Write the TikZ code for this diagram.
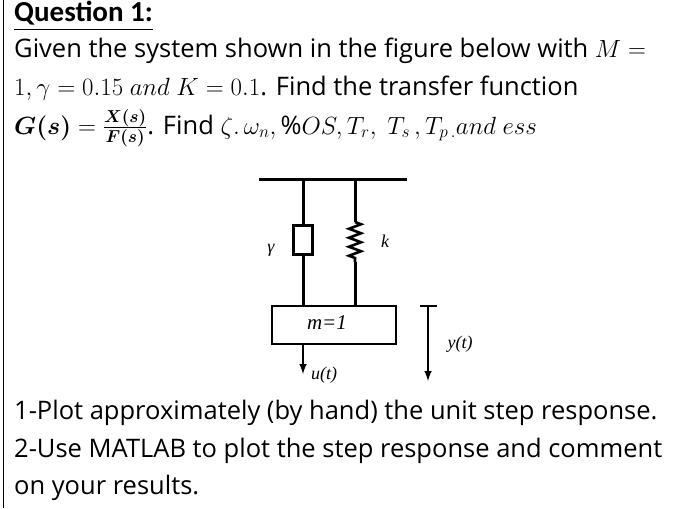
\documentclass[tikz,border=0pt]{standalone}
\usepackage{amsmath,bm}
\usepackage{fontspec}
\setmainfont{Open Sans}
\newfontfamily\titlefont{Carlito}
\newfontfamily\figfont{Liberation Serif}
\usetikzlibrary{decorations.pathmorphing}
\begin{document}
\begin{tikzpicture}[x=1pt,y=-1pt,
  txt/.style={anchor=west,inner sep=0pt,font=\fontsize{25.5}{30}\selectfont},
  fig/.style={font=\fontsize{18}{19}\selectfont\figfont\itshape,inner sep=1pt},
  ln/.style={line width=3pt}]
\useasboundingbox (0,0) rectangle (700,508);
\fill[white] (0,0) rectangle (700,508);
\draw[line width=1pt] (3,0) -- (3,508);
\node[txt,font=\fontsize{29}{30}\titlefont\bfseries] (t0) at (14,16) {\underline{Question 1:}};
\node[txt] (t1) at (14,51) {Given the system shown in the figure below with $M=$};
\node[txt] (t2) at (14,88) {$1,\gamma=0.15\ and\ K=0.1$. Find the transfer function};
\node[txt] (t3) at (14,128) {$\bm{G(s)}=\frac{\bm{X(s)}}{\bm{F(s)}}$. Find $\zeta.\,\omega_n,\%OS,T_r,\ T_s\,,T_{p\,.}and\ ess$};
\node[txt] (t4) at (14,413) {1-Plot approximately (by hand) the unit step response.};
\node[txt] (t5) at (14,451) {2-Use MATLAB to plot the step response and comment};
\node[txt] (t6) at (14,488) {on your results.};
% figure
\coordinate (wl) at (259,179); \coordinate (wr) at (407,179);
\draw[ln] (wl) -- (wr);
\node[draw,line width=2.6pt,minimum width=124pt,minimum height=38pt,inner sep=0pt] (m) at (334,325) {};
\node[fig,font=\fontsize{21}{22}\selectfont\figfont\itshape] (ml) at (327,323) {m=1};
\node[draw,line width=2.6pt,minimum width=19pt,minimum height=29pt,inner sep=0pt] (d) at (303,240) {};
\draw[ln] (303,179) -- (303,226);
\draw[ln] (d.south) -- (303,306);
\draw[ln] (355,179) -- (355,222);
\draw[line width=2.6pt,decorate,decoration={zigzag,amplitude=6pt,segment length=9pt}] (355,222) -- (355,262);
\draw[ln] (355,262) -- (355,306);
\node[fig] (g) at (271,250) {γ};
\node[fig] (k) at (385,241) {k};
\coordinate (ua) at (303,374);
\draw[line width=2.4pt,-latex] (303,345) -- (ua);
\node[fig] (u) at (324,375) {u(t)};
\coordinate (yt) at (428,306); \coordinate (yb) at (428,381);
\draw[line width=2.4pt] (420,306) -- (437,306);
\draw[line width=2.4pt,-latex] (yt) -- (yb);
\node[fig] (y) at (460,344) {y(t)};
\end{tikzpicture}
\end{document}
